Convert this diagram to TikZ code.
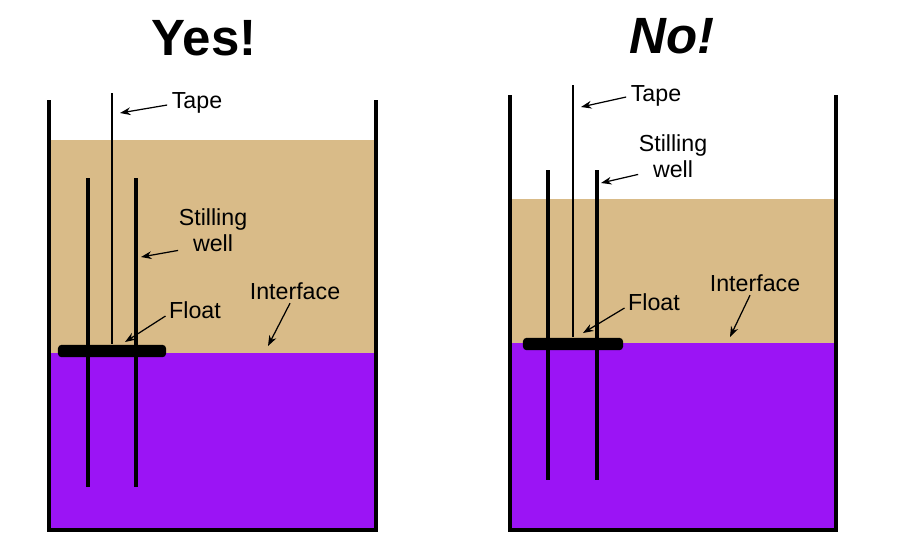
\documentclass[tikz,border=0pt]{standalone}
\usepackage{fontspec}
\setmainfont{Liberation Sans}
\usetikzlibrary{arrows.meta}
\definecolor{oil}{RGB}{217,187,136}
\definecolor{water}{RGB}{155,20,245}
\begin{document}
\begin{tikzpicture}[x=0.01cm,y=-0.01cm,
  wall/.style={line width=0.9pt},
  pipe/.style={line width=0.9pt},
  tape/.style={line width=0.3pt},
  lbl/.style={font=\fontsize{6.6}{7.5}\selectfont,align=center,inner sep=0pt},
  ptr/.style={line width=0.35pt,-{Stealth[length=3pt,width=2.2pt]}},
  float/.style={fill=black,rounded corners=1pt,inner sep=0pt,minimum height=3.5pt}]
\useasboundingbox (0,0) rectangle (897,547);

% left tank
\fill[oil] (49,140) rectangle (376,353);
\fill[water] (49,353) rectangle (376,530);
\draw[wall] (49,100) -- (49,530) -- (376,530) -- (376,100);
\draw[pipe] (88,178) -- (88,487);
\draw[pipe] (136,178) -- (136,487);
\node[float,minimum width=38\pgflinewidth*0+1.08cm] (fL) at (112,351) {};
\coordinate (tL) at (112,93);
\draw[tape] (tL) -- (fL);
\node[font=\fontsize{14.5}{16}\selectfont\bfseries] (yes) at (204,38) {Yes!};
\node[lbl] (tapeL) at (197,103) {Tape};
\node[lbl] (wellL) at (213,230) {Stilling\\well};
\node[lbl] (floatL) at (195,310) {Float};
\node[lbl] (intL) at (295,291) {Interface};
\coordinate (tapeLa) at (120,113);
\coordinate (wellLa) at (141,257);
\coordinate (floatLa) at (125,342);
\coordinate (intLa) at (268,346);
\draw[ptr] (tapeL.west) ++(-4,2) -- (tapeLa);
\draw[ptr] (wellL.south west) ++(0,-2) -- (wellLa);
\draw[ptr] (floatL.west) ++(-3,6) -- (floatLa);
\draw[ptr] (intL.south) ++(-5,3) -- (intLa);

% right tank
\fill[oil] (510,199) rectangle (836,343);
\fill[water] (510,343) rectangle (836,530);
\draw[wall] (510,95) -- (510,530) -- (836,530) -- (836,95);
\draw[pipe] (548,170) -- (548,480);
\draw[pipe] (597,170) -- (597,480);
\node[float,minimum width=1cm] (fR) at (573,344) {};
\coordinate (tR) at (573,85);
\draw[tape] (tR) -- (fR);
\node[font=\fontsize{14.5}{16}\selectfont\bfseries\itshape] (no) at (672,36) {No!};
\node[lbl] (tapeR) at (656,96) {Tape};
\node[lbl] (wellR) at (673,156) {Stilling\\well};
\node[lbl] (floatR) at (654,302) {Float};
\node[lbl] (intR) at (755,283) {Interface};
\coordinate (tapeRa) at (581,107);
\coordinate (wellRa) at (601,183);
\coordinate (floatRa) at (583,333);
\coordinate (intRa) at (730,337);
\draw[ptr] (tapeR.west) ++(-4,1) -- (tapeRa);
\draw[ptr] (wellR.south west) ++(0,-4) -- (wellRa);
\draw[ptr] (floatR.west) ++(-3,6) -- (floatRa);
\draw[ptr] (intR.south) ++(-5,3) -- (intRa);
\end{tikzpicture}
\end{document}
